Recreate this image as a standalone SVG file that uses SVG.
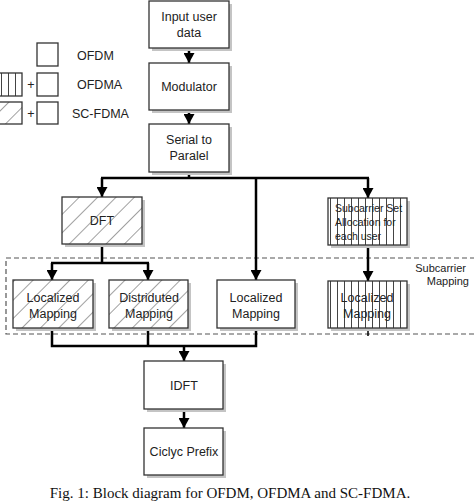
<svg xmlns="http://www.w3.org/2000/svg" width="474" height="503" viewBox="0 0 474 503">
<style>
.box{fill:#fff;stroke:#333;stroke-width:1.3}
.sh{fill:#c4c4c4}
.t{font-family:"Liberation Sans",Arial,sans-serif;font-size:12.5px;fill:#222;text-anchor:middle}
.c{stroke:#000;stroke-width:2.5;fill:none}
.cap{font-family:"Liberation Serif","Times New Roman",serif;font-size:15px;fill:#111;text-anchor:middle}
</style>
<defs>
<marker id="ah" markerUnits="userSpaceOnUse" markerWidth="11" markerHeight="11" refX="10" refY="5.5" orient="auto"><path d="M0,0 L10,5.5 L0,11 z" fill="#000"/></marker>
<pattern id="diag" patternUnits="userSpaceOnUse" width="13" height="13" patternTransform="rotate(45)"><rect width="13" height="13" fill="#fff"/><line x1="0" y1="0" x2="0" y2="13" stroke="#444" stroke-width="1"/></pattern>
<pattern id="vert" patternUnits="userSpaceOnUse" width="7" height="10" x="1"><rect width="7" height="10" fill="#fff"/><line x1="0.5" y1="0" x2="0.5" y2="10" stroke="#444" stroke-width="1"/></pattern>
</defs>

<g id="legend">
<rect class="box" x="37" y="43" width="21" height="23"/>
<text class="t" x="77" y="60" style="text-anchor:start">OFDM</text>
<rect x="-2" y="73" width="24" height="23" fill="url(#vert)" stroke="#333" stroke-width="1.3"/>
<text class="t" x="31" y="89">+</text>
<rect class="box" x="37" y="73" width="21" height="23"/>
<text class="t" x="77" y="89" style="text-anchor:start">OFDMA</text>
<rect x="-2" y="102" width="24" height="22" fill="url(#diag)" stroke="#333" stroke-width="1.3"/>
<text class="t" x="31" y="118">+</text>
<rect class="box" x="37" y="102" width="21" height="22"/>
<text class="t" x="72" y="118" style="text-anchor:start">SC-FDMA</text>
</g>

<g id="mapping-region">
<rect x="6" y="258" width="480" height="76" fill="none" stroke="#555" stroke-width="1.2" stroke-dasharray="5,3"/>
<text class="t" x="466" y="272" style="text-anchor:end;font-size:11px">Subcarrier</text>
<text class="t" x="469" y="285" style="text-anchor:end;font-size:11px">Mapping</text>
</g>

<g id="connectors">
<line class="c" x1="189" y1="48" x2="189" y2="63" marker-end="url(#ah)"/>
<line class="c" x1="189" y1="110" x2="189" y2="124" marker-end="url(#ah)"/>
<line class="c" x1="189" y1="172" x2="189" y2="178"/>
<line class="c" x1="101" y1="178" x2="369" y2="178"/>
<line class="c" x1="102" y1="178" x2="102" y2="197" marker-end="url(#ah)"/>
<line class="c" x1="256" y1="178" x2="256" y2="280" marker-end="url(#ah)"/>
<line class="c" x1="368" y1="178" x2="368" y2="198" marker-end="url(#ah)"/>
<line class="c" x1="102" y1="244" x2="102" y2="263"/>
<line class="c" x1="51" y1="263" x2="149" y2="263"/>
<line class="c" x1="52" y1="263" x2="52" y2="280" marker-end="url(#ah)"/>
<line class="c" x1="148" y1="263" x2="148" y2="280" marker-end="url(#ah)"/>
<line class="c" x1="368" y1="245" x2="368" y2="281" marker-end="url(#ah)"/>
<line x1="368" y1="328" x2="368" y2="336" stroke="#000" stroke-width="1.5"/>
<path class="c" d="M52,328 V346 H256 V328"/>
<line class="c" x1="148" y1="328" x2="148" y2="346"/>
<line class="c" x1="184" y1="346" x2="184" y2="361" marker-end="url(#ah)"/>
<line class="c" x1="184" y1="409" x2="184" y2="428" marker-end="url(#ah)"/>
</g>

<g id="input">
<rect class="sh" x="152" y="4" width="80" height="47"/>
<rect class="box" x="149" y="1" width="80" height="47"/>
<text class="t" x="189" y="21">Input user</text>
<text class="t" x="189" y="37">data</text>
</g>

<g id="modulator">
<rect class="sh" x="152" y="66" width="80" height="47"/>
<rect class="box" x="149" y="63" width="80" height="47"/>
<text class="t" x="189" y="91">Modulator</text>
</g>

<g id="s2p">
<rect class="sh" x="152" y="127" width="80" height="48"/>
<rect class="box" x="149" y="124" width="80" height="48"/>
<text class="t" x="189" y="144">Serial to</text>
<text class="t" x="189" y="160">Paralel</text>
</g>

<g id="dft">
<rect class="sh" x="65" y="200" width="80" height="47"/>
<rect class="box" x="62" y="197" width="80" height="47" style="fill:url(#diag)"/>
<text class="t" x="102" y="225">DFT</text>
</g>

<g id="subset">
<rect class="sh" x="331" y="201" width="79" height="47"/>
<rect class="box" x="328" y="198" width="79" height="47" style="fill:url(#vert)"/>
<text class="t" x="335" y="212" style="text-anchor:start;font-size:10.5px">Subcarrier Set</text>
<text class="t" x="335" y="226" style="text-anchor:start;font-size:10.5px">Allocation for</text>
<text class="t" x="335" y="240" style="text-anchor:start;font-size:10.5px">each user</text>
</g>

<g id="loc1">
<rect class="sh" x="16" y="283" width="80" height="48"/>
<rect class="box" x="13" y="280" width="80" height="48" style="fill:url(#diag)"/>
<text class="t" x="53" y="302">Localized</text>
<text class="t" x="53" y="318">Mapping</text>
</g>

<g id="dist">
<rect class="sh" x="112" y="283" width="79" height="48"/>
<rect class="box" x="109" y="280" width="79" height="48" style="fill:url(#diag)"/>
<text class="t" x="149" y="302">Distriduted</text>
<text class="t" x="149" y="318">Mapping</text>
</g>

<g id="loc2">
<rect class="sh" x="220" y="283" width="78" height="48"/>
<rect class="box" x="217" y="280" width="78" height="48"/>
<text class="t" x="256" y="302">Localized</text>
<text class="t" x="256" y="318">Mapping</text>
</g>

<g id="loc3">
<rect class="sh" x="331" y="284" width="79" height="47"/>
<rect class="box" x="328" y="281" width="79" height="47" style="fill:url(#vert)"/>
<text class="t" x="367" y="302">Localized</text>
<text class="t" x="367" y="318">Mapping</text>
</g>

<g id="idft">
<rect class="sh" x="147" y="364" width="79" height="48"/>
<rect class="box" x="144" y="361" width="79" height="48"/>
<text class="t" x="184" y="390">IDFT</text>
</g>

<g id="cp">
<rect class="sh" x="147" y="431" width="79" height="47"/>
<rect class="box" x="144" y="428" width="79" height="47"/>
<text class="t" x="184" y="456">Ciclyc Prefix</text>
</g>

<text class="cap" x="230" y="498">Fig. 1: Block diagram for OFDM, OFDMA and SC-FDMA.</text>
</svg>
